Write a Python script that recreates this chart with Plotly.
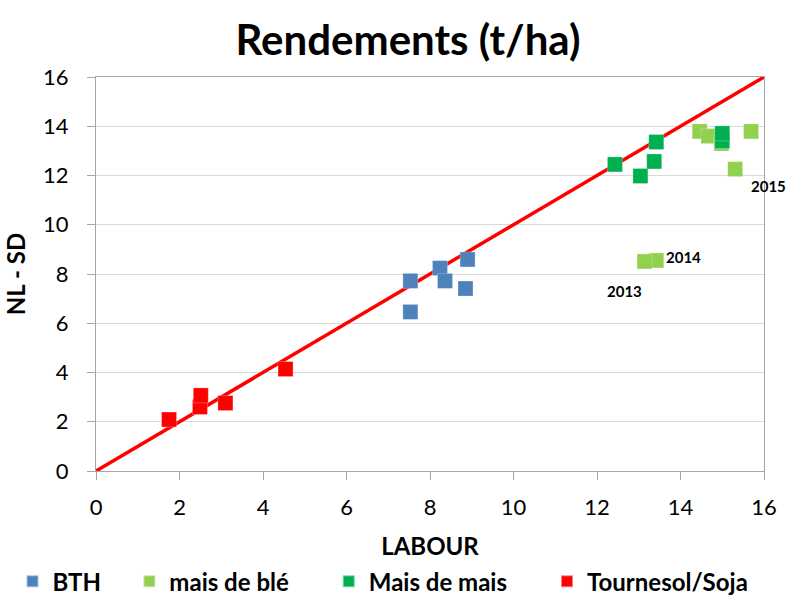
import plotly.graph_objects as go

bth_x = [7.53, 8.24, 8.36, 8.90, 8.85, 7.53]
bth_y = [7.72, 8.24, 7.72, 8.59, 7.41, 6.46]

mble_x = [14.46, 14.67, 14.98, 15.69, 15.31, 13.42, 13.14]
mble_y = [13.79, 13.60, 13.30, 13.79, 12.26, 8.55, 8.51]

mmais_x = [12.43, 13.04, 13.37, 13.42, 15.00, 15.00]
mmais_y = [12.45, 11.98, 12.57, 13.36, 13.40, 13.71]

tour_x = [1.75, 2.49, 2.51, 3.10, 4.54]
tour_y = [2.09, 2.60, 3.07, 2.76, 4.14]

line_x = [0, 16]
line_y = [0, 16]

labels = ["2015", "2014", "2013"]
label_x = [15.65, 14.06, 12.66]
label_y = [11.59, 8.71, 7.33]
label_anchor = ["left", "center", "center"]

FONT = "Lato"
fig = go.Figure()
fig.add_trace(go.Scatter(x=line_x, y=line_y, mode="lines",
                         line=dict(color="#FF0000", width=3.5), showlegend=False, hoverinfo="skip"))

def add(name, xs, ys, color, pad):
    fig.add_trace(go.Scatter(x=xs, y=ys, mode="markers", name=name + "\u00a0" * pad,
                             marker=dict(symbol="square", size=15, color=color,
                                         line=dict(color="rgba(255,255,255,0.5)", width=0.5))))

add("BTH", bth_x, bth_y, "#4F81BD", 4)
add("mais de blé", mble_x, mble_y, "#92D050", 6)
add("Mais de mais", mmais_x, mmais_y, "#00B050", 6)
add("Tournesol/Soja", tour_x, tour_y, "#FF0000", 0)

for t, x, y, a in zip(labels, label_x, label_y, label_anchor):
    fig.add_annotation(x=x, y=y, text=t, showarrow=False, xanchor=a,
                       font=dict(family=FONT, size=15, color="black", weight="bold"))

axis_common = dict(range=[0, 16], dtick=2, gridcolor="#D9D9D9", gridwidth=1,
                   showline=True, linecolor="#A6A6A6", linewidth=1, ticks="outside",
                   ticklen=8, tickcolor="#A6A6A6", zeroline=False, automargin=False,
                   tickfont=dict(family=FONT, size=22, color="black"), mirror=True)

fig.update_layout(
    width=800, height=616,
    paper_bgcolor="white", plot_bgcolor="white",
    margin=dict(l=88, r=36, t=77, b=133),
    title=dict(text="<b>Rendements (t/ha)</b>", x=0.51, xanchor="center", y=0.935, yanchor="middle",
               font=dict(family=FONT, size=42, color="black")),
    xaxis=dict(**axis_common, showgrid=False, ticklabelstandoff=9,
               title=dict(text="<b>LABOUR</b>", font=dict(family=FONT, size=24, color="black"), standoff=18)),
    yaxis=dict(**axis_common, showgrid=True, ticklabelstandoff=14,
               title=dict(text="<b>NL - SD</b>", font=dict(family=FONT, size=24, color="black"), standoff=10)),
    legend=dict(orientation="h", x=-0.125, xanchor="left", y=-0.281, yanchor="middle",
                font=dict(family=FONT, size=24, color="black", weight="bold"),
                itemsizing="constant", traceorder="normal"),
    showlegend=True,
)

fig.write_html("out.html")
